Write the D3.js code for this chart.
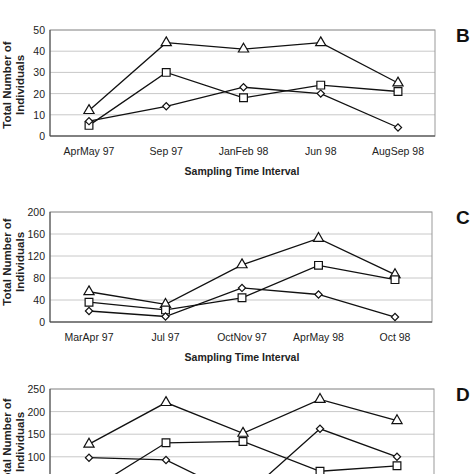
<!DOCTYPE html>
<html><head><meta charset="utf-8">
<script src="https://cdn.jsdelivr.net/npm/d3@7"></script>
<style>body{margin:0;background:#fff;overflow:hidden}text{font-family:"Liberation Sans",Arial,sans-serif}</style>
</head><body><div id="canvas"></div>
<script>
var catsB = ["AprMay 97", "Sep 97", "JanFeb 98", "Jun 98", "AugSep 98"];
var triB = [12, 44, 41, 44, 25];
var sqB = [5, 30, 18, 24, 21];
var diaB = [7, 14, 23, 20, 4];

var catsC = ["MarApr 97", "Jul 97", "OctNov 97", "AprMay 98", "Oct 98"];
var triC = [55, 32, 104, 152, 86];
var sqC = [36, 22, 44, 103, 77];
var diaC = [20, 10, 62, 50, 9];

var triD = [128, 220, 152, 227, 180];
var sqD = [25, 131, 134, 68, 80];
var diaD = [98, 93, 10, 162, 100];

var ticksB = [0, 10, 20, 30, 40, 50];
var ticksC = [0, 40, 80, 120, 160, 200];
var ticksD = [100, 150, 200, 250];

var svg = d3.select("#canvas").append("svg").attr("width", 474).attr("height", 474);

function panel(cfg) {
  var g = svg.append("g");
  var x = d3.scalePoint().domain(d3.range(5)).range([cfg.x0 + 39, cfg.x1 - 37]);
  var y = d3.scaleLinear().domain(cfg.dom).range([cfg.yb, cfg.yt]);

  g.selectAll(".grid").data(cfg.ticks).enter().append("line")
    .attr("x1", cfg.x0).attr("x2", cfg.x1)
    .attr("y1", function(d) { return y(d); }).attr("y2", function(d) { return y(d); })
    .attr("stroke", "#c8c8c8");
  g.append("rect").attr("x", cfg.x0).attr("y", y(cfg.dom[1]))
    .attr("width", cfg.x1 - cfg.x0).attr("height", y(cfg.dom[0]) - y(cfg.dom[1]))
    .attr("fill", "none").attr("stroke", "#999");
  g.append("line").attr("x1", cfg.x0).attr("x2", cfg.x0)
    .attr("y1", y(cfg.dom[1])).attr("y2", y(cfg.dom[0])).attr("stroke", "#444");
  g.append("line").attr("x1", cfg.x0).attr("x2", cfg.x1)
    .attr("y1", y(cfg.dom[0])).attr("y2", y(cfg.dom[0])).attr("stroke", "#444");

  g.selectAll(".yt").data(cfg.ticks).enter().append("text")
    .attr("x", cfg.x0 - 5).attr("y", function(d) { return y(d) + 4; })
    .attr("text-anchor", "end").attr("font-size", 10.5).attr("fill", "#222")
    .text(function(d) { return d; });
  if (cfg.cats) {
    g.selectAll(".xt").data(cfg.cats).enter().append("text")
      .attr("x", function(d, i) { return x(i); }).attr("y", cfg.yb + 19)
      .attr("text-anchor", "middle").attr("font-size", 10.5).attr("fill", "#222")
      .text(function(d) { return d; });
    g.append("text").attr("x", 242).attr("y", cfg.yb + 39).attr("text-anchor", "middle")
      .attr("font-size", 10.5).attr("font-weight", "bold").attr("fill", "#222")
      .text("Sampling Time Interval");
  }

  var cy = cfg.ylab;
  var yl = g.append("text").attr("transform", "translate(13," + cy + ") rotate(-90)")
    .attr("text-anchor", "middle").attr("font-size", 11.5).attr("font-weight", "bold").attr("fill", "#222");
  yl.append("tspan").attr("x", 0).attr("dy", -2).text("Total Number of");
  yl.append("tspan").attr("x", 0).attr("dy", 13).text("Individuals");

  g.append("text").attr("x", 456).attr("y", cfg.yt + 12).attr("font-size", 19)
    .attr("font-weight", "bold").attr("fill", "#111").text(cfg.letter);

  var line = d3.line().x(function(d, i) { return x(i); }).y(function(d) { return y(d); });
  var shapes = [[cfg.tri, d3.symbolTriangle, 45, 0], [cfg.sq, d3.symbolSquare, 60, 0], [cfg.dia, d3.symbolSquare, 26, 45]];
  shapes.forEach(function(s) {
    g.append("path").datum(s[0]).attr("d", line).attr("fill", "none")
      .attr("stroke", "#111").attr("stroke-width", 1.3);
  });
  shapes.forEach(function(s) {
    g.selectAll(null).data(s[0]).enter().append("path")
      .attr("d", d3.symbol().type(s[1]).size(s[2]))
      .attr("transform", function(d, i) { return "translate(" + x(i) + "," + y(d) + ") rotate(" + s[3] + ")"; })
      .attr("fill", "#fff").attr("stroke", "#111").attr("stroke-width", 1.2);
  });
}

panel({letter: "B", cats: catsB, tri: triB, sq: sqB, dia: diaB, ticks: ticksB, dom: [0, 50], yt: 30, yb: 136, x0: 50, x1: 435, ylab: 85});
panel({letter: "C", cats: catsC, tri: triC, sq: sqC, dia: diaC, ticks: ticksC, dom: [0, 200], yt: 212, yb: 322, x0: 50, x1: 432, ylab: 262});
panel({letter: "D", cats: null, tri: triD, sq: sqD, dia: diaD, ticks: [0, 50].concat(ticksD), dom: [0, 250], yt: 389, yb: 502, x0: 50, x1: 434, ylab: 442});
</script></body></html>
